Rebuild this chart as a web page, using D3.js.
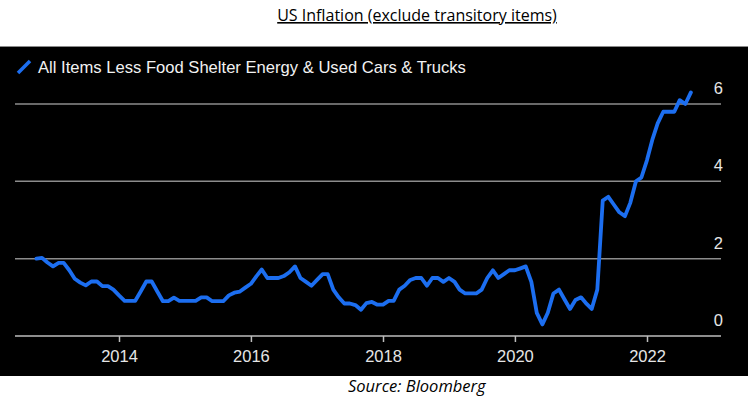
<!DOCTYPE html>
<html>
<head>
<meta charset="utf-8">
<script src="https://cdn.jsdelivr.net/npm/d3@7"></script>
<style>
  html, body { margin: 0; padding: 0; background: #fff; }
  svg { display: block; }
</style>
</head>
<body>
<svg id="chart" width="750" height="399"></svg>
<script>
// monthly readings, first one is Oct 2012
const startMonth = new Date(2012, 9, 1);
const inflation = [
  2.0, 2.02, 1.9, 1.8, 1.89, 1.89, 1.7, 1.48, 1.38, 1.31,
  1.41, 1.41, 1.29, 1.29, 1.2, 1.05, 0.91, 0.91, 0.91, 1.15,
  1.41, 1.41, 1.15, 0.9, 0.9, 0.99, 0.91, 0.91, 0.91, 0.91,
  1.0, 1.0, 0.9, 0.9, 0.9, 1.05, 1.12, 1.15, 1.25, 1.35,
  1.55, 1.72, 1.5, 1.5, 1.5, 1.55, 1.65, 1.8, 1.5, 1.4,
  1.3, 1.45, 1.6, 1.6, 1.2, 1.0, 0.84, 0.84, 0.8, 0.68,
  0.85, 0.88, 0.81, 0.81, 0.91, 0.91, 1.2, 1.3, 1.45, 1.5,
  1.5, 1.3, 1.5, 1.5, 1.4, 1.5, 1.4, 1.2, 1.1, 1.1,
  1.1, 1.2, 1.5, 1.7, 1.5, 1.6, 1.7, 1.7, 1.75, 1.8,
  1.4, 0.6, 0.3, 0.6, 1.1, 1.2, 0.95, 0.7, 0.93, 1.0,
  0.83, 0.7, 1.2, 3.5, 3.6, 3.4, 3.2, 3.1, 3.45, 4.0,
  4.1, 4.55, 5.1, 5.5, 5.8, 5.8, 5.8, 6.1, 6.0, 6.3
];
const xTickYears = [2014, 2016, 2018, 2020, 2022];
const yTicks = [0, 2, 4, 6];
const seriesName = "All Items Less Food Shelter Energy & Used Cars & Trucks";
const titleText = "US Inflation (exclude transitory items)";
const sourceText = "Source: Bloomberg";

const data = inflation.map((v, i) => ({ date: d3.timeMonth.offset(startMonth, i), value: v }));

const svg = d3.select("#chart");
const blue = "#1c6ef0";
const sans = "'Liberation Sans', Arial, sans-serif";

// black panel
svg.append("rect")
    .attr("x", 0).attr("y", 46)
    .attr("width", 748).attr("height", 330)
    .attr("fill", "#000");
svg.append("line")
    .attr("x1", 0).attr("x2", 748)
    .attr("y1", 46.5).attr("y2", 46.5)
    .attr("stroke", "#8a8a8a");

const x = d3.scaleTime()
    .domain([new Date(2014, 0, 1), new Date(2022, 0, 1)])
    .range([119, 647]);

const y = d3.scaleLinear()
    .domain([0, 6])
    .range([336, 104]);

const gridLeft = 15, gridRight = 721;

// gridlines + right labels
const grid = svg.append("g");
grid.selectAll("line")
    .data(yTicks)
    .enter().append("line")
    .attr("x1", gridLeft).attr("x2", gridRight)
    .attr("y1", d => y(d)).attr("y2", d => y(d))
    .attr("stroke", d => d === 0 ? "#bdbdbd" : "#8c8c8c")
    .attr("stroke-width", 1.5);

grid.selectAll("text")
    .data(yTicks)
    .enter().append("text")
    .attr("x", 723)
    .attr("y", d => y(d) - 10)
    .attr("text-anchor", "end")
    .attr("fill", "#e6e6e6")
    .style("font-family", sans)
    .style("font-size", "16.5px")
    .text(d => d);

// x axis
const xAxis = svg.append("g")
    .attr("transform", "translate(0," + y(0) + ")")
    .call(d3.axisBottom(x)
        .tickValues(xTickYears.map(yr => new Date(yr, 0, 1)))
        .tickFormat(d3.timeFormat("%Y"))
        .tickSize(6)
        .tickPadding(8));
xAxis.select(".domain").remove();
xAxis.selectAll(".tick line").attr("stroke", "#bdbdbd").attr("stroke-width", 1.5);
xAxis.selectAll(".tick text")
    .attr("fill", "#e6e6e6")
    .style("font-family", sans)
    .style("font-size", "16.5px");

// series line
const line = d3.line()
    .x(d => x(d.date))
    .y(d => y(d.value));

svg.append("path")
    .datum(data)
    .attr("d", line)
    .attr("fill", "none")
    .attr("stroke", blue)
    .attr("stroke-width", 3.8)
    .attr("stroke-linejoin", "round")
    .attr("stroke-linecap", "round");

// legend
svg.append("line")
    .attr("x1", 18).attr("y1", 73)
    .attr("x2", 30).attr("y2", 61)
    .attr("stroke", blue)
    .attr("stroke-width", 3.5);
svg.append("text")
    .attr("x", 38).attr("y", 73)
    .attr("fill", "#f2f2f2")
    .style("font-family", sans)
    .style("font-size", "16.6px")
    .text(seriesName);

// title + source
svg.append("text")
    .attr("x", 417).attr("y", 21)
    .attr("text-anchor", "middle")
    .attr("fill", "#000")
    .style("font-family", "'Open Sans', sans-serif")
    .style("font-size", "16px")
    .style("text-decoration", "underline")
    .text(titleText);

svg.append("text")
    .attr("x", 348).attr("y", 392)
    .attr("fill", "#000")
    .style("font-family", "'Open Sans', sans-serif")
    .style("font-size", "16.5px")
    .style("font-style", "italic")
    .text(sourceText);
</script>
</body>
</html>
